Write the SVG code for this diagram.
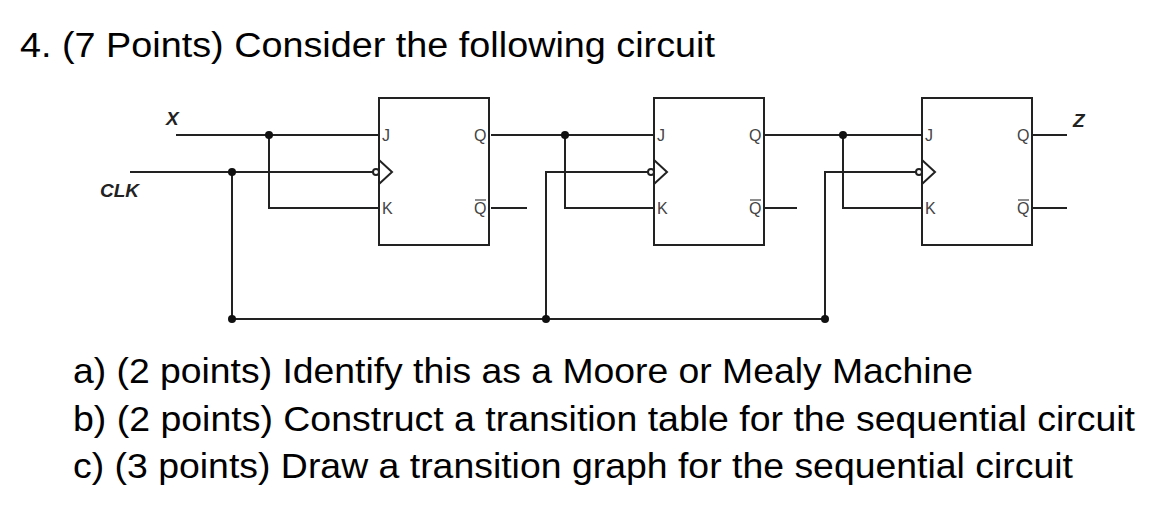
<svg xmlns="http://www.w3.org/2000/svg" width="1170" height="514" viewBox="0 0 1170 514">
<style>
.t{font-family:"Liberation Sans",Arial,sans-serif;font-size:35px;fill:#000}
.p{font-family:"Liberation Sans",Arial,sans-serif;font-size:16px;fill:#444}
.l{font-family:"Liberation Sans",Arial,sans-serif;font-size:19px;font-style:italic;font-weight:bold;fill:#222}
.w{stroke:#222;stroke-width:2;fill:none}
.b{stroke:#222;stroke-width:2;fill:#fff}
</style>
<defs>
<g id="ff">
<rect class="b" x="0" y="0" width="110" height="147"/>
<path class="w" d="M0,62 L13,74 L0,86"/>
<circle cx="-3" cy="74" r="3" class="b" stroke-width="1.5"/>
<text class="p" x="3" y="43">J</text>
<text class="p" x="3" y="116">K</text>
<text class="p" x="95" y="43">Q</text>
<text class="p" x="95" y="116">Q</text>
<line x1="96" y1="102" x2="107" y2="102" stroke="#444" stroke-width="1.2"/>
</g>
</defs>
<text class="t" x="20" y="57" textLength="695" lengthAdjust="spacingAndGlyphs">4. (7 Points) Consider the following circuit</text>
<g id="connectors">
<path class="w" d="M176,135H379 M269,135V208H379 M130,172H376 M232,172V319H825 M491,135H656 M565,135V208H656 M546,319V172H651 M491,208H527 M764,135H922 M843,135V208H922 M825,319V172H919 M764,208H797 M1032,135H1067 M1032,208H1067"/>
<g fill="#111">
<circle cx="269" cy="135" r="4"/><circle cx="232" cy="172" r="4"/><circle cx="232" cy="319" r="4"/>
<circle cx="565" cy="135" r="4"/><circle cx="546" cy="319" r="4"/>
<circle cx="843" cy="135" r="4"/><circle cx="825" cy="319" r="4"/>
</g>
</g>
<g id="ff1"><use href="#ff" x="379" y="98"/></g>
<g id="ff2"><use href="#ff" x="654" y="98"/></g>
<g id="ff3"><use href="#ff" x="922" y="98"/></g>
<text class="l" x="166" y="125">X</text>
<text class="l" x="100" y="197">CLK</text>
<text class="l" x="1073" y="127">Z</text>
<text class="t" x="73" y="383" textLength="900" lengthAdjust="spacingAndGlyphs">a) (2 points) Identify this as a Moore or Mealy Machine</text>
<text class="t" x="73" y="431" textLength="1062" lengthAdjust="spacingAndGlyphs">b) (2 points) Construct a transition table for the sequential circuit</text>
<text class="t" x="73" y="478" textLength="1000" lengthAdjust="spacingAndGlyphs">c) (3 points) Draw a transition graph for the sequential circuit</text>
</svg>
